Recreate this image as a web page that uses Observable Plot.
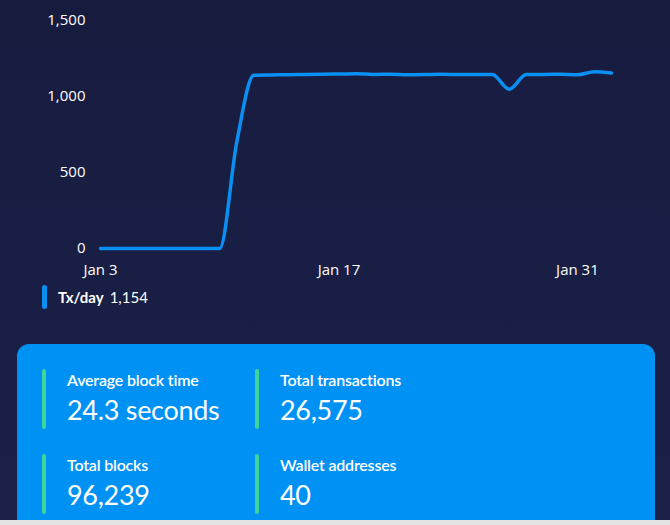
<!DOCTYPE html>
<html>
<head>
<meta charset="utf-8">
<script src="https://cdn.jsdelivr.net/npm/d3@7"></script>
<script src="https://cdn.jsdelivr.net/npm/@observablehq/plot@0.6"></script>
<style>
  html, body { margin: 0; padding: 0; background: #e3e3e3; }
  #page { position: relative; width: 670px; height: 520px; overflow: hidden;
          background: linear-gradient(#171c3f, #1b2049); font-family: Lato, "Open Sans", sans-serif; }
  #chart { position: absolute; left: 0; top: 0; }
  #legend { position: absolute; left: 42px; top: 285px; height: 24px; display: flex; align-items: center; color: #fff; font-size: 15px; }
  #legend .swatch { width: 5px; height: 24px; border-radius: 3px; background: #0a8ff3; margin-right: 11px; }
  #legend b { font-weight: 700; margin-right: 6px; }
  #card { position: absolute; left: 17px; top: 344px; width: 638px; height: 200px; background: #0091f5; border-radius: 12px; }
  .stat { position: absolute; height: 60px; padding-left: 25px; color: #fff; }
  .stat::before { content: ""; position: absolute; left: 0; top: 0; width: 4px; height: 60px; border-radius: 2px; background: #3fd59a; }
  .stat .lab { font-size: 16px; font-weight: 600; line-height: 18px; margin-top: 2px; letter-spacing: -0.2px; }
  .stat .val { font-size: 27px; font-weight: 400; line-height: 32px; margin-top: 5px; letter-spacing: -0.3px; }
</style>
</head>
<body>
<div id="page">
  <div id="chart"></div>
  <div id="legend"></div>
  <div id="card"></div>
</div>
<script>
const dates = ["2024-01-03","2024-01-04","2024-01-05","2024-01-06","2024-01-07","2024-01-08","2024-01-09","2024-01-10",
  "2024-01-11","2024-01-12","2024-01-13","2024-01-14","2024-01-15","2024-01-16","2024-01-17","2024-01-18",
  "2024-01-19","2024-01-20","2024-01-21","2024-01-22","2024-01-23","2024-01-24","2024-01-25","2024-01-26",
  "2024-01-27","2024-01-28","2024-01-29","2024-01-30","2024-01-31","2024-02-01","2024-02-02"];
const txPerDay = [0,0,0,0,0,0,0,0,
  700,1140,1142,1143,1145,1146,1148,1150,
  1145,1147,1143,1144,1146,1145,1145,1144,
  1048,1144,1145,1146,1143,1163,1154];
const yTicks = [0, 500, 1000, 1500];
const xTickDates = ["2024-01-03", "2024-01-17", "2024-01-31"];
const legendLabel = "Tx/day";
const legendValue = "1,154";
const statLabels = ["Average block time", "Total transactions", "Total blocks", "Wallet addresses"];
const statValues = ["24.3 seconds", "26,575", "96,239", "40"];

const data = dates.map((d, i) => ({date: new Date(d + "T00:00:00Z"), v: txPerDay[i]}));
const fmtDate = d3.utcFormat("%b %-d");
const fmtNum = d3.format(",");
const xTicks = xTickDates.map(d => new Date(d + "T00:00:00Z"));

const chart = Plot.plot({
  width: 670,
  height: 285,
  marginLeft: 100,
  marginRight: 59,
  marginTop: 20,
  marginBottom: 37,
  style: {background: "transparent", color: "#fff", fontFamily: "'Open Sans', sans-serif", fontSize: "15px"},
  x: {type: "utc", domain: [data[0].date, data[data.length - 1].date], label: null},
  y: {domain: [0, 1500], label: null},
  marks: [
    Plot.axisX({ticks: xTicks, tickFormat: fmtDate, tickSize: 0, tickPadding: 16, label: null, fill: "#fff"}),
    Plot.axisY({ticks: yTicks, tickFormat: fmtNum, tickSize: 0, tickPadding: 15, label: null, fill: "#fff"}),
    Plot.line(data, {x: "date", y: "v", stroke: "#0a8ff3", strokeWidth: 3.5, curve: "monotone-x"})
  ]
});
document.getElementById("chart").appendChild(chart);

document.getElementById("legend").innerHTML =
  `<span class="swatch"></span><b>${legendLabel}</b><span>${legendValue}</span>`;

const card = document.getElementById("card");
const pos = [[25, 25], [238, 25], [25, 110], [238, 110]];
statLabels.forEach((l, i) => {
  const s = document.createElement("div");
  s.className = "stat";
  s.style.left = pos[i][0] + "px";
  s.style.top = pos[i][1] + "px";
  s.innerHTML = `<div class="lab">${l}</div><div class="val">${statValues[i]}</div>`;
  card.appendChild(s);
});
</script>
</body>
</html>
